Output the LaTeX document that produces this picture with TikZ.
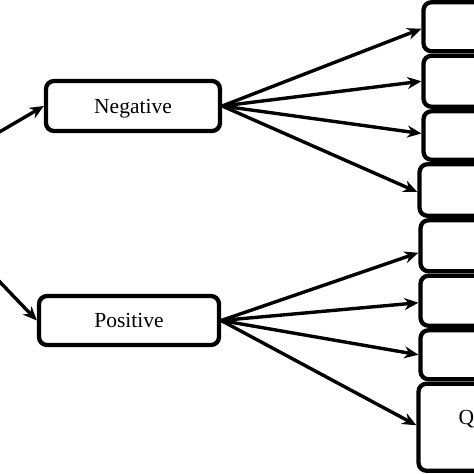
\documentclass[tikz,border=0pt]{standalone}
\usepackage{fontspec}
\setmainfont{Liberation Serif}
\usetikzlibrary{arrows.meta,calc}

\begin{document}
\begin{tikzpicture}[x=1pt,y=-1pt]
        \tikzstyle{every node}+=[inner sep=0pt]
        \tikzstyle{box}=[draw, line width=4.3pt, rounded corners=8pt, text depth=0pt, font=\fontsize{21.5}{25}\selectfont]
        \tikzstyle{rbox}=[box, minimum width=200pt]
        \tikzstyle{link}=[line width=3.4pt, -{Stealth[length=14pt,width=12pt]}]
        \useasboundingbox (0,0) rectangle (474,474);
        \clip (0,0) rectangle (474,474);
        % middle level
        \node [box, minimum width=174pt, minimum height=50pt] (neg) at (133,106) {Negative};
        \node [box, minimum width=180pt, minimum height=49pt] (pos) at (129,320.5) {Positive};
        % right column, cut off at the page edge
        \node [rbox, minimum height=49pt] (n1) at (523.5,26.75) {};
        \node [rbox, minimum height=51pt] (n2) at (523.5,81.25) {};
        \node [rbox, minimum height=48.5pt] (n3) at (523.5,135.5) {};
        \node [rbox, minimum height=51.5pt] (n4) at (519.5,190) {};
        \node [rbox, minimum height=51pt] (n5) at (520.5,245.75) {};
        \node [rbox, minimum height=50pt] (n6) at (520.5,300.75) {};
        \node [rbox, minimum height=49pt] (n7) at (520.5,354.75) {};
        \node [rbox, minimum height=87pt] (n8) at (518.5,427.25) {};
        \node [font=\fontsize{21.5}{25}\selectfont] (q) at (466.5,419.5) {Q};
        % incoming
        \coordinate (inN) at (-10,137.5);
        \coordinate (inP) at (-10,271.7);
        \draw [link] (inN) -- (neg.west);
        \draw [link] (inP) -- (pos.west);
        % outgoing
        \draw [link] (neg.east) -- ($(n1.west)+(0,2)$);
        \draw [link] (neg.east) -- (n2.west);
        \draw [link] (neg.east) -- ($(n3.west)+(0,-2)$);
        \draw [link] (neg.east) -- ($(n4.west)+(0,2)$);
        \draw [link] (pos.east) -- ($(n5.west)+(0,7)$);
        \draw [link] (pos.east) -- ($(n6.west)+(0,2)$);
        \draw [link] (pos.east) -- (n7.west);
        \draw [link] (pos.east) -- ($(n8.west)+(0,-2)$);
\end{tikzpicture}
\end{document}
